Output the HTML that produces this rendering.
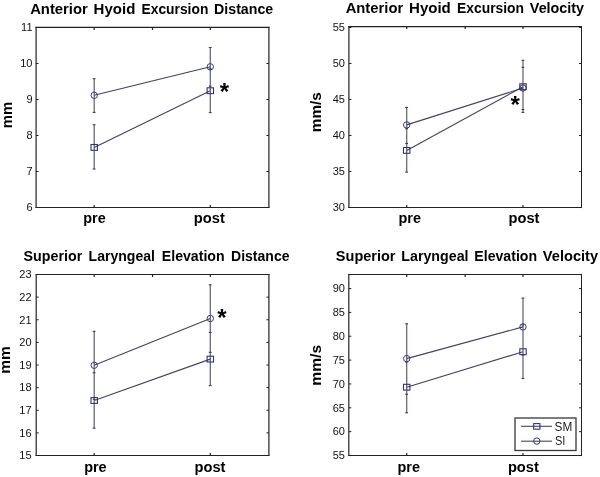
<!DOCTYPE html>
<html><head><meta charset="utf-8"><style>
html,body{margin:0;padding:0;background:#fff;overflow:hidden;width:600px;height:477px;}
svg{display:block;}
text{font-family:'Liberation Sans', Arial, sans-serif;}
.ti{font-weight:bold;font-size:15.3px;fill:#000;}
.tk{font-size:11px;fill:#111;text-anchor:end;}
.xl{font-weight:bold;font-size:14.6px;fill:#000;text-anchor:middle;}
.yl{font-weight:bold;font-size:15.2px;fill:#000;text-anchor:middle;}
.st{font-weight:bold;font-size:24px;fill:#000;}
.lg{font-size:12.3px;fill:#1a1a1a;}
</style></head><body>
<svg width="600" height="477" viewBox="0 0 600 477">
<rect width="600" height="477" fill="#fff"/>
<text x="30.13" y="13.6" class="ti" textLength="57.68" lengthAdjust="spacingAndGlyphs">Anterior</text>
<text x="93.62" y="13.6" class="ti" textLength="41.69" lengthAdjust="spacingAndGlyphs">Hyoid</text>
<text x="141.50" y="13.6" class="ti" textLength="66.83" lengthAdjust="spacingAndGlyphs">Excursion</text>
<text x="214.08" y="13.6" class="ti" textLength="59.10" lengthAdjust="spacingAndGlyphs">Distance</text>
<line x1="36.1" x2="36.1" y1="26.85" y2="208.1" stroke="#222" stroke-width="1.2"/>
<line x1="268.9" x2="268.9" y1="26.85" y2="208.1" stroke="#222" stroke-width="1.2"/>
<line x1="35.5" x2="269.5" y1="27.45" y2="27.45" stroke="#222" stroke-width="1.2"/>
<line x1="35.5" x2="269.5" y1="207.5" y2="207.5" stroke="#222" stroke-width="1.2"/>
<line x1="36.1" x2="38.6" y1="207.5" y2="207.5" stroke="#222" stroke-width="1"/>
<line x1="268.9" x2="266.4" y1="207.5" y2="207.5" stroke="#222" stroke-width="1"/>
<text x="32.5" y="211.3" class="tk">6</text>
<line x1="36.1" x2="38.6" y1="171.5" y2="171.5" stroke="#222" stroke-width="1"/>
<line x1="268.9" x2="266.4" y1="171.5" y2="171.5" stroke="#222" stroke-width="1"/>
<text x="32.5" y="175.3" class="tk">7</text>
<line x1="36.1" x2="38.6" y1="135.5" y2="135.5" stroke="#222" stroke-width="1"/>
<line x1="268.9" x2="266.4" y1="135.5" y2="135.5" stroke="#222" stroke-width="1"/>
<text x="32.5" y="139.3" class="tk">8</text>
<line x1="36.1" x2="38.6" y1="99.5" y2="99.5" stroke="#222" stroke-width="1"/>
<line x1="268.9" x2="266.4" y1="99.5" y2="99.5" stroke="#222" stroke-width="1"/>
<text x="32.5" y="103.3" class="tk">9</text>
<line x1="36.1" x2="38.6" y1="63.5" y2="63.5" stroke="#222" stroke-width="1"/>
<line x1="268.9" x2="266.4" y1="63.5" y2="63.5" stroke="#222" stroke-width="1"/>
<text x="32.5" y="67.3" class="tk">10</text>
<line x1="36.1" x2="38.6" y1="27.5" y2="27.5" stroke="#222" stroke-width="1"/>
<line x1="268.9" x2="266.4" y1="27.5" y2="27.5" stroke="#222" stroke-width="1"/>
<text x="32.5" y="31.3" class="tk">11</text>
<line x1="152.5" x2="152.5" y1="27.45" y2="29.95" stroke="#222" stroke-width="1.2"/>
<line x1="94.2" x2="94.2" y1="27.45" y2="29.95" stroke="#222" stroke-width="1.2"/>
<line x1="94.2" x2="94.2" y1="207.5" y2="205.0" stroke="#222" stroke-width="1.2"/>
<line x1="210.3" x2="210.3" y1="27.45" y2="29.95" stroke="#222" stroke-width="1.2"/>
<line x1="210.3" x2="210.3" y1="207.5" y2="205.0" stroke="#222" stroke-width="1.2"/>
<line x1="94.2" x2="94.2" y1="78.7" y2="112.4" stroke="#62627e" stroke-width="1.25"/>
<line x1="94.2" x2="94.2" y1="124.7" y2="169" stroke="#62627e" stroke-width="1.25"/>
<line x1="92.7" x2="95.5" y1="78.7" y2="78.7" stroke="#3a3a5a" stroke-width="1.1"/>
<line x1="92.7" x2="95.5" y1="112.4" y2="112.4" stroke="#3a3a5a" stroke-width="1.1"/>
<line x1="92.7" x2="95.5" y1="124.7" y2="124.7" stroke="#3a3a5a" stroke-width="1.1"/>
<line x1="92.7" x2="95.5" y1="169" y2="169" stroke="#3a3a5a" stroke-width="1.1"/>
<line x1="210.3" x2="210.3" y1="47.5" y2="112.6" stroke="#62627e" stroke-width="1.25"/>
<line x1="208.8" x2="211.6" y1="47.5" y2="47.5" stroke="#3a3a5a" stroke-width="1.1"/>
<line x1="208.8" x2="211.6" y1="86.1" y2="86.1" stroke="#3a3a5a" stroke-width="1.1"/>
<line x1="208.8" x2="211.6" y1="68.8" y2="68.8" stroke="#3a3a5a" stroke-width="1.1"/>
<line x1="208.8" x2="211.6" y1="112.6" y2="112.6" stroke="#3a3a5a" stroke-width="1.1"/>
<line x1="94.2" y1="95.3" x2="210.3" y2="66.8" stroke="#444462" stroke-width="1.15"/>
<circle cx="94.2" cy="95.3" r="3.2" fill="none" stroke="#34346a" stroke-width="0.95"/>
<circle cx="210.3" cy="66.8" r="3.2" fill="none" stroke="#34346a" stroke-width="0.95"/>
<line x1="94.2" y1="147.4" x2="210.3" y2="90.7" stroke="#444462" stroke-width="1.15"/>
<rect x="91.00" y="144.50" width="6.4" height="5.8" fill="none" stroke="#34346a" stroke-width="1.1"/>
<rect x="207.10" y="87.80" width="6.4" height="5.8" fill="none" stroke="#34346a" stroke-width="1.1"/>
<text x="219.8" y="100.2" class="st">*</text>
<text x="94.5" y="223" class="xl" textLength="22.5" lengthAdjust="spacingAndGlyphs">pre</text>
<text x="209.3" y="223" class="xl" textLength="31" lengthAdjust="spacingAndGlyphs">post</text>
<text class="yl" transform="translate(12.2,114.9) rotate(-90)" textLength="26.5" lengthAdjust="spacingAndGlyphs">mm</text>
<text x="345.63" y="13.0" class="ti" textLength="57.58" lengthAdjust="spacingAndGlyphs">Anterior</text>
<text x="409.02" y="13.0" class="ti" textLength="41.80" lengthAdjust="spacingAndGlyphs">Hyoid</text>
<text x="457.10" y="13.0" class="ti" textLength="66.93" lengthAdjust="spacingAndGlyphs">Excursion</text>
<text x="529.86" y="13.0" class="ti" textLength="54.21" lengthAdjust="spacingAndGlyphs">Velocity</text>
<line x1="348.9" x2="348.9" y1="26.0" y2="208.1" stroke="#222" stroke-width="1.2"/>
<line x1="581.5" x2="581.5" y1="26.0" y2="208.1" stroke="#222" stroke-width="1.0"/>
<line x1="348.3" x2="582.0" y1="26.6" y2="26.6" stroke="#222" stroke-width="1.2"/>
<line x1="348.3" x2="582.0" y1="207.5" y2="207.5" stroke="#222" stroke-width="1.2"/>
<line x1="348.9" x2="351.4" y1="207.5" y2="207.5" stroke="#222" stroke-width="1"/>
<line x1="581.5" x2="579.0" y1="207.5" y2="207.5" stroke="#222" stroke-width="1"/>
<text x="345" y="211.3" class="tk">30</text>
<line x1="348.9" x2="351.4" y1="171.5" y2="171.5" stroke="#222" stroke-width="1"/>
<line x1="581.5" x2="579.0" y1="171.5" y2="171.5" stroke="#222" stroke-width="1"/>
<text x="345" y="175.3" class="tk">35</text>
<line x1="348.9" x2="351.4" y1="135.5" y2="135.5" stroke="#222" stroke-width="1"/>
<line x1="581.5" x2="579.0" y1="135.5" y2="135.5" stroke="#222" stroke-width="1"/>
<text x="345" y="139.3" class="tk">40</text>
<line x1="348.9" x2="351.4" y1="99.5" y2="99.5" stroke="#222" stroke-width="1"/>
<line x1="581.5" x2="579.0" y1="99.5" y2="99.5" stroke="#222" stroke-width="1"/>
<text x="345" y="103.3" class="tk">45</text>
<line x1="348.9" x2="351.4" y1="63.5" y2="63.5" stroke="#222" stroke-width="1"/>
<line x1="581.5" x2="579.0" y1="63.5" y2="63.5" stroke="#222" stroke-width="1"/>
<text x="345" y="67.3" class="tk">50</text>
<line x1="348.9" x2="351.4" y1="27.5" y2="27.5" stroke="#222" stroke-width="1"/>
<line x1="581.5" x2="579.0" y1="27.5" y2="27.5" stroke="#222" stroke-width="1"/>
<text x="345" y="31.3" class="tk">55</text>
<line x1="465.2" x2="465.2" y1="26.6" y2="29.1" stroke="#222" stroke-width="1.2"/>
<line x1="406.7" x2="406.7" y1="26.6" y2="29.1" stroke="#222" stroke-width="1.2"/>
<line x1="406.7" x2="406.7" y1="207.5" y2="205.0" stroke="#222" stroke-width="1.2"/>
<line x1="523" x2="523" y1="26.6" y2="29.1" stroke="#222" stroke-width="1.2"/>
<line x1="523" x2="523" y1="207.5" y2="205.0" stroke="#222" stroke-width="1.2"/>
<line x1="406.7" x2="406.7" y1="107.4" y2="172.1" stroke="#62627e" stroke-width="1.25"/>
<line x1="405.2" x2="408.0" y1="107.4" y2="107.4" stroke="#3a3a5a" stroke-width="1.1"/>
<line x1="405.2" x2="408.0" y1="143.4" y2="143.4" stroke="#3a3a5a" stroke-width="1.1"/>
<line x1="405.2" x2="408.0" y1="128.7" y2="128.7" stroke="#3a3a5a" stroke-width="1.1"/>
<line x1="405.2" x2="408.0" y1="172.1" y2="172.1" stroke="#3a3a5a" stroke-width="1.1"/>
<line x1="523" x2="523" y1="60.3" y2="112.4" stroke="#62627e" stroke-width="1.25"/>
<line x1="521.5" x2="524.3" y1="60.3" y2="60.3" stroke="#3a3a5a" stroke-width="1.1"/>
<line x1="521.5" x2="524.3" y1="112.4" y2="112.4" stroke="#3a3a5a" stroke-width="1.1"/>
<line x1="521.5" x2="524.3" y1="67.3" y2="67.3" stroke="#3a3a5a" stroke-width="1.1"/>
<line x1="521.5" x2="524.3" y1="109.5" y2="109.5" stroke="#3a3a5a" stroke-width="1.1"/>
<line x1="406.7" y1="124.9" x2="523" y2="88.0" stroke="#444462" stroke-width="1.15"/>
<circle cx="406.7" cy="124.9" r="3.2" fill="none" stroke="#34346a" stroke-width="0.95"/>
<circle cx="523" cy="88.0" r="3.2" fill="none" stroke="#34346a" stroke-width="0.95"/>
<line x1="406.7" y1="150.4" x2="523" y2="86.7" stroke="#444462" stroke-width="1.15"/>
<rect x="403.50" y="147.50" width="6.4" height="5.8" fill="none" stroke="#34346a" stroke-width="1.1"/>
<rect x="519.80" y="83.80" width="6.4" height="5.8" fill="none" stroke="#34346a" stroke-width="1.1"/>
<text x="510.4" y="113" class="st">*</text>
<text x="409.7" y="223" class="xl" textLength="22.5" lengthAdjust="spacingAndGlyphs">pre</text>
<text x="524" y="223" class="xl" textLength="31" lengthAdjust="spacingAndGlyphs">post</text>
<text class="yl" transform="translate(321.3,112.2) rotate(-90)" textLength="40" lengthAdjust="spacingAndGlyphs">mm/s</text>
<text x="23.57" y="260.8" class="ti" textLength="58.67" lengthAdjust="spacingAndGlyphs">Superior</text>
<text x="88.59" y="260.8" class="ti" textLength="66.38" lengthAdjust="spacingAndGlyphs">Laryngeal</text>
<text x="161.78" y="260.8" class="ti" textLength="62.88" lengthAdjust="spacingAndGlyphs">Elevation</text>
<text x="231.09" y="260.8" class="ti" textLength="58.38" lengthAdjust="spacingAndGlyphs">Distance</text>
<line x1="36.2" x2="36.2" y1="273.9" y2="456.1" stroke="#222" stroke-width="1.2"/>
<line x1="268.9" x2="268.9" y1="273.9" y2="456.1" stroke="#222" stroke-width="1.2"/>
<line x1="35.6" x2="269.5" y1="274.5" y2="274.5" stroke="#222" stroke-width="1.2"/>
<line x1="35.6" x2="269.5" y1="455.5" y2="455.5" stroke="#222" stroke-width="1.2"/>
<line x1="36.2" x2="38.7" y1="455.5" y2="455.5" stroke="#222" stroke-width="1"/>
<line x1="268.9" x2="266.4" y1="455.5" y2="455.5" stroke="#222" stroke-width="1"/>
<text x="31.6" y="459.3" class="tk">15</text>
<line x1="36.2" x2="38.7" y1="432.88" y2="432.88" stroke="#222" stroke-width="1"/>
<line x1="268.9" x2="266.4" y1="432.88" y2="432.88" stroke="#222" stroke-width="1"/>
<text x="31.6" y="436.68" class="tk">16</text>
<line x1="36.2" x2="38.7" y1="410.25" y2="410.25" stroke="#222" stroke-width="1"/>
<line x1="268.9" x2="266.4" y1="410.25" y2="410.25" stroke="#222" stroke-width="1"/>
<text x="31.6" y="414.05" class="tk">17</text>
<line x1="36.2" x2="38.7" y1="387.62" y2="387.62" stroke="#222" stroke-width="1"/>
<line x1="268.9" x2="266.4" y1="387.62" y2="387.62" stroke="#222" stroke-width="1"/>
<text x="31.6" y="391.43" class="tk">18</text>
<line x1="36.2" x2="38.7" y1="365.0" y2="365.0" stroke="#222" stroke-width="1"/>
<line x1="268.9" x2="266.4" y1="365.0" y2="365.0" stroke="#222" stroke-width="1"/>
<text x="31.6" y="368.8" class="tk">19</text>
<line x1="36.2" x2="38.7" y1="342.38" y2="342.38" stroke="#222" stroke-width="1"/>
<line x1="268.9" x2="266.4" y1="342.38" y2="342.38" stroke="#222" stroke-width="1"/>
<text x="31.6" y="346.18" class="tk">20</text>
<line x1="36.2" x2="38.7" y1="319.75" y2="319.75" stroke="#222" stroke-width="1"/>
<line x1="268.9" x2="266.4" y1="319.75" y2="319.75" stroke="#222" stroke-width="1"/>
<text x="31.6" y="323.55" class="tk">21</text>
<line x1="36.2" x2="38.7" y1="297.12" y2="297.12" stroke="#222" stroke-width="1"/>
<line x1="268.9" x2="266.4" y1="297.12" y2="297.12" stroke="#222" stroke-width="1"/>
<text x="31.6" y="300.93" class="tk">22</text>
<line x1="36.2" x2="38.7" y1="274.5" y2="274.5" stroke="#222" stroke-width="1"/>
<line x1="268.9" x2="266.4" y1="274.5" y2="274.5" stroke="#222" stroke-width="1"/>
<text x="31.6" y="278.3" class="tk">23</text>
<line x1="152.55" x2="152.55" y1="274.5" y2="277.0" stroke="#222" stroke-width="1.2"/>
<line x1="94.2" x2="94.2" y1="274.5" y2="277.0" stroke="#222" stroke-width="1.2"/>
<line x1="94.2" x2="94.2" y1="455.5" y2="453.0" stroke="#222" stroke-width="1.2"/>
<line x1="210.3" x2="210.3" y1="274.5" y2="277.0" stroke="#222" stroke-width="1.2"/>
<line x1="210.3" x2="210.3" y1="455.5" y2="453.0" stroke="#222" stroke-width="1.2"/>
<line x1="94.2" x2="94.2" y1="331.3" y2="428.2" stroke="#62627e" stroke-width="1.25"/>
<line x1="92.7" x2="95.5" y1="331.3" y2="331.3" stroke="#3a3a5a" stroke-width="1.1"/>
<line x1="92.7" x2="95.5" y1="399.3" y2="399.3" stroke="#3a3a5a" stroke-width="1.1"/>
<line x1="92.7" x2="95.5" y1="372.8" y2="372.8" stroke="#3a3a5a" stroke-width="1.1"/>
<line x1="92.7" x2="95.5" y1="428.2" y2="428.2" stroke="#3a3a5a" stroke-width="1.1"/>
<line x1="210.3" x2="210.3" y1="284.8" y2="385.6" stroke="#62627e" stroke-width="1.25"/>
<line x1="208.8" x2="211.6" y1="284.8" y2="284.8" stroke="#3a3a5a" stroke-width="1.1"/>
<line x1="208.8" x2="211.6" y1="352.3" y2="352.3" stroke="#3a3a5a" stroke-width="1.1"/>
<line x1="208.8" x2="211.6" y1="332.4" y2="332.4" stroke="#3a3a5a" stroke-width="1.1"/>
<line x1="208.8" x2="211.6" y1="385.6" y2="385.6" stroke="#3a3a5a" stroke-width="1.1"/>
<line x1="94.2" y1="365.3" x2="210.3" y2="318.5" stroke="#444462" stroke-width="1.15"/>
<circle cx="94.2" cy="365.3" r="3.2" fill="none" stroke="#34346a" stroke-width="0.95"/>
<circle cx="210.3" cy="318.5" r="3.2" fill="none" stroke="#34346a" stroke-width="0.95"/>
<line x1="94.2" y1="400.5" x2="210.3" y2="359.1" stroke="#444462" stroke-width="1.15"/>
<rect x="91.00" y="397.60" width="6.4" height="5.8" fill="none" stroke="#34346a" stroke-width="1.1"/>
<rect x="207.10" y="356.20" width="6.4" height="5.8" fill="none" stroke="#34346a" stroke-width="1.1"/>
<text x="217.3" y="325.8" class="st">*</text>
<text x="95.4" y="472" class="xl" textLength="22.5" lengthAdjust="spacingAndGlyphs">pre</text>
<text x="210" y="472" class="xl" textLength="31" lengthAdjust="spacingAndGlyphs">post</text>
<text class="yl" transform="translate(9.6,360.1) rotate(-90)" textLength="27.5" lengthAdjust="spacingAndGlyphs">mm</text>
<text x="335.86" y="260.6" class="ti" textLength="59.63" lengthAdjust="spacingAndGlyphs">Superior</text>
<text x="401.33" y="260.6" class="ti" textLength="67.16" lengthAdjust="spacingAndGlyphs">Laryngeal</text>
<text x="474.33" y="260.6" class="ti" textLength="62.78" lengthAdjust="spacingAndGlyphs">Elevation</text>
<text x="542.85" y="260.6" class="ti" textLength="55.22" lengthAdjust="spacingAndGlyphs">Velocity</text>
<line x1="348.8" x2="348.8" y1="273.9" y2="456.1" stroke="#222" stroke-width="1.2"/>
<line x1="581.5" x2="581.5" y1="273.9" y2="456.1" stroke="#222" stroke-width="1.0"/>
<line x1="348.2" x2="582.0" y1="274.5" y2="274.5" stroke="#222" stroke-width="1.2"/>
<line x1="348.2" x2="582.0" y1="455.5" y2="455.5" stroke="#222" stroke-width="1.2"/>
<line x1="348.8" x2="351.3" y1="455.5" y2="455.5" stroke="#222" stroke-width="1"/>
<line x1="581.5" x2="579.0" y1="455.5" y2="455.5" stroke="#222" stroke-width="1"/>
<text x="345" y="459.3" class="tk">55</text>
<line x1="348.8" x2="351.3" y1="431.65" y2="431.65" stroke="#222" stroke-width="1"/>
<line x1="581.5" x2="579.0" y1="431.65" y2="431.65" stroke="#222" stroke-width="1"/>
<text x="345" y="435.45" class="tk">60</text>
<line x1="348.8" x2="351.3" y1="407.8" y2="407.8" stroke="#222" stroke-width="1"/>
<line x1="581.5" x2="579.0" y1="407.8" y2="407.8" stroke="#222" stroke-width="1"/>
<text x="345" y="411.6" class="tk">65</text>
<line x1="348.8" x2="351.3" y1="383.95" y2="383.95" stroke="#222" stroke-width="1"/>
<line x1="581.5" x2="579.0" y1="383.95" y2="383.95" stroke="#222" stroke-width="1"/>
<text x="345" y="387.75" class="tk">70</text>
<line x1="348.8" x2="351.3" y1="360.1" y2="360.1" stroke="#222" stroke-width="1"/>
<line x1="581.5" x2="579.0" y1="360.1" y2="360.1" stroke="#222" stroke-width="1"/>
<text x="345" y="363.9" class="tk">75</text>
<line x1="348.8" x2="351.3" y1="336.25" y2="336.25" stroke="#222" stroke-width="1"/>
<line x1="581.5" x2="579.0" y1="336.25" y2="336.25" stroke="#222" stroke-width="1"/>
<text x="345" y="340.05" class="tk">80</text>
<line x1="348.8" x2="351.3" y1="312.4" y2="312.4" stroke="#222" stroke-width="1"/>
<line x1="581.5" x2="579.0" y1="312.4" y2="312.4" stroke="#222" stroke-width="1"/>
<text x="345" y="316.2" class="tk">85</text>
<line x1="348.8" x2="351.3" y1="288.55" y2="288.55" stroke="#222" stroke-width="1"/>
<line x1="581.5" x2="579.0" y1="288.55" y2="288.55" stroke="#222" stroke-width="1"/>
<text x="345" y="292.35" class="tk">90</text>
<line x1="465.15" x2="465.15" y1="274.5" y2="277.0" stroke="#222" stroke-width="1.2"/>
<line x1="406.7" x2="406.7" y1="274.5" y2="277.0" stroke="#222" stroke-width="1.2"/>
<line x1="406.7" x2="406.7" y1="455.5" y2="453.0" stroke="#222" stroke-width="1.2"/>
<line x1="523" x2="523" y1="274.5" y2="277.0" stroke="#222" stroke-width="1.2"/>
<line x1="523" x2="523" y1="455.5" y2="453.0" stroke="#222" stroke-width="1.2"/>
<line x1="406.7" x2="406.7" y1="323.8" y2="412.8" stroke="#62627e" stroke-width="1.25"/>
<line x1="405.2" x2="408.0" y1="323.8" y2="323.8" stroke="#3a3a5a" stroke-width="1.1"/>
<line x1="405.2" x2="408.0" y1="394.3" y2="394.3" stroke="#3a3a5a" stroke-width="1.1"/>
<line x1="405.2" x2="408.0" y1="361.9" y2="361.9" stroke="#3a3a5a" stroke-width="1.1"/>
<line x1="405.2" x2="408.0" y1="412.8" y2="412.8" stroke="#3a3a5a" stroke-width="1.1"/>
<line x1="523" x2="523" y1="298.1" y2="378.5" stroke="#62627e" stroke-width="1.25"/>
<line x1="521.5" x2="524.3" y1="298.1" y2="298.1" stroke="#3a3a5a" stroke-width="1.1"/>
<line x1="521.5" x2="524.3" y1="355.1" y2="355.1" stroke="#3a3a5a" stroke-width="1.1"/>
<line x1="521.5" x2="524.3" y1="325.0" y2="325.0" stroke="#3a3a5a" stroke-width="1.1"/>
<line x1="521.5" x2="524.3" y1="378.5" y2="378.5" stroke="#3a3a5a" stroke-width="1.1"/>
<line x1="406.7" y1="358.6" x2="523" y2="326.9" stroke="#444462" stroke-width="1.15"/>
<circle cx="406.7" cy="358.6" r="3.2" fill="none" stroke="#34346a" stroke-width="0.95"/>
<circle cx="523" cy="326.9" r="3.2" fill="none" stroke="#34346a" stroke-width="0.95"/>
<line x1="406.7" y1="387.2" x2="523" y2="351.7" stroke="#444462" stroke-width="1.15"/>
<rect x="403.50" y="384.30" width="6.4" height="5.8" fill="none" stroke="#34346a" stroke-width="1.1"/>
<rect x="519.80" y="348.80" width="6.4" height="5.8" fill="none" stroke="#34346a" stroke-width="1.1"/>
<text x="408.7" y="472" class="xl" textLength="22.5" lengthAdjust="spacingAndGlyphs">pre</text>
<text x="523.4" y="472" class="xl" textLength="31" lengthAdjust="spacingAndGlyphs">post</text>
<text class="yl" transform="translate(321,365.3) rotate(-90)" textLength="41" lengthAdjust="spacingAndGlyphs">mm/s</text>
<rect x="515" y="418" width="61" height="32.5" fill="#fff" stroke="#383838" stroke-width="1.3"/>
<line x1="521" x2="552" y1="426.3" y2="426.3" stroke="#444462" stroke-width="1.1"/>
<rect x="533.7" y="423.6" width="6.2" height="5.6" fill="none" stroke="#34346a" stroke-width="1.1"/>
<line x1="521" x2="552" y1="441.2" y2="441.2" stroke="#444462" stroke-width="1.1"/>
<circle cx="536.8" cy="441.1" r="3.2" fill="none" stroke="#34346a" stroke-width="1"/>
<text x="554.57" y="430.8" class="lg" textLength="17.67" lengthAdjust="spacingAndGlyphs">SM</text>
<text x="555.01" y="445.4" class="lg" textLength="10.38" lengthAdjust="spacingAndGlyphs">SI</text>
</svg>
</body></html>
